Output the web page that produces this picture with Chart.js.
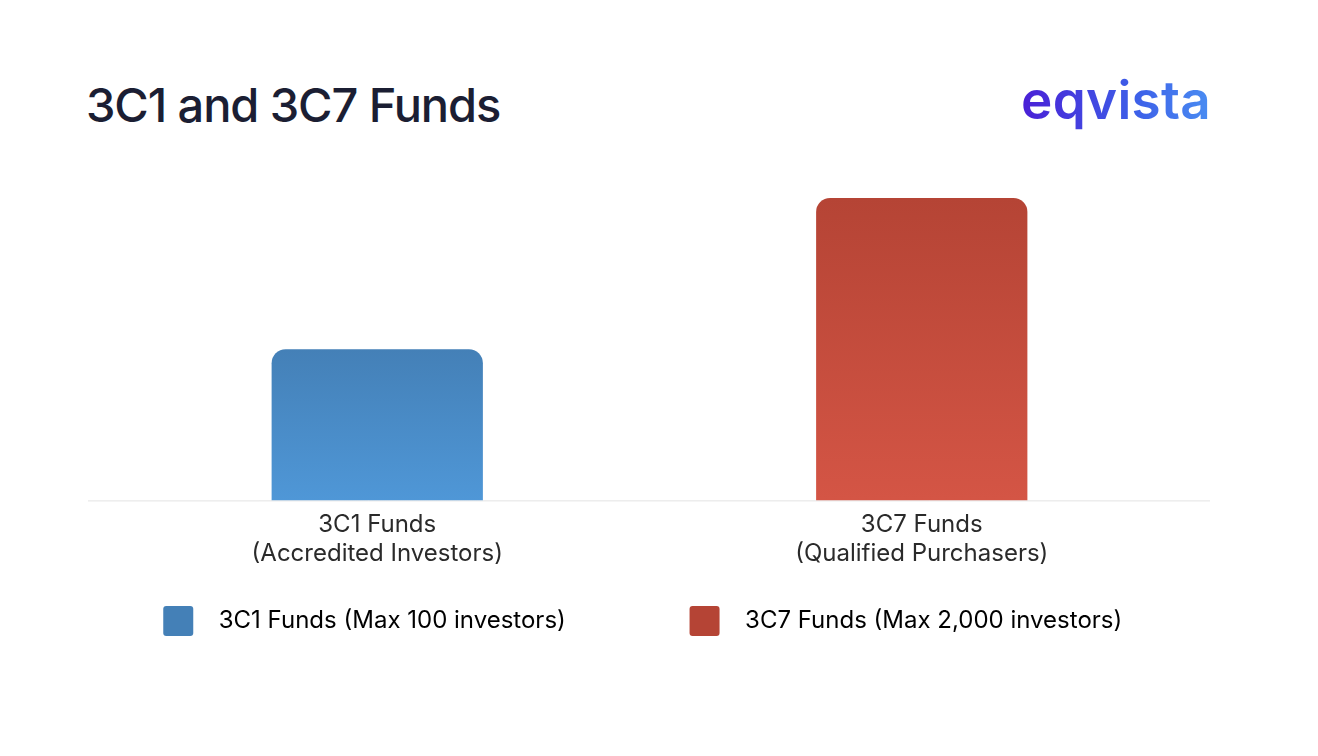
<!DOCTYPE html>
<html>
<head>
<meta charset="utf-8">
<script src="https://cdn.jsdelivr.net/npm/chart.js@4"></script>
<style>
  body { margin: 0; background: #fff; }
  #wrap { position: relative; width: 1318px; height: 756px; }
  #title { position: absolute; left: 86px; top: 76px; font: 500 47px Inter, sans-serif; color: #1b1e33; letter-spacing: -1.1px; }
  #logo { position: absolute; left: 1021px; top: 68px; font: 600 53px Inter, sans-serif; letter-spacing: 0.3px;
    background: linear-gradient(90deg, #4a1fd6, #3d5fe8 60%, #4a8df2); -webkit-background-clip: text; color: transparent; }
  canvas { position: absolute; left: 0; top: 0; }
</style>
</head>
<body>
<div id="wrap">
  <div id="title">3C1 and 3C7 Funds</div>
  <div id="logo">eqvista</div>
  <canvas id="chart" width="1318" height="756"></canvas>
</div>
<script>
// data
const categories = [['3C1 Funds', '(Accredited Investors)'], ['3C7 Funds', '(Qualified Purchasers)']];
const values = [1, 2];
const legendLabels = ['3C1 Funds (Max 100 investors)', '3C7 Funds (Max 2,000 investors)'];
const topColors = ['#4480b7', '#b54435'];
const bottomColors = ['#4f97d7', '#d45545'];

function barFill(ctx) {
  const chart = ctx.chart;
  const area = chart.chartArea;
  if (!area) return topColors[ctx.dataIndex];
  const y = chart.scales.y;
  const top = y.getPixelForValue(values[ctx.dataIndex]);
  const g = chart.ctx.createLinearGradient(0, top, 0, area.bottom);
  g.addColorStop(0, topColors[ctx.dataIndex]);
  g.addColorStop(1, bottomColors[ctx.dataIndex]);
  return g;
}

// baseline wider than the category area
const baseline = {
  id: 'baseline',
  beforeDatasetsDraw(chart) {
    const c = chart.ctx, b = chart.chartArea.bottom;
    c.save();
    c.strokeStyle = '#e3e3e3';
    c.lineWidth = 1;
    c.beginPath();
    c.moveTo(88, b + 0.5);
    c.lineTo(1210, b + 0.5);
    c.stroke();
    c.restore();
  }
};

new Chart(document.getElementById('chart'), {
  type: 'bar',
  data: {
    labels: categories,
    datasets: [{
      data: values,
      backgroundColor: barFill,
      borderRadius: { topLeft: 14, topRight: 14 },
      borderSkipped: 'bottom',
      barPercentage: 0.388,
      categoryPercentage: 1
    }]
  },
  options: {
    responsive: false,
    animation: false,
    layout: { padding: { left: 105, right: 124, top: 198, bottom: 110 } },
    scales: {
      y: { display: false, min: 0, max: 2 },
      x: {
        grid: { display: false },
        border: { display: false },
        ticks: { color: '#2a2a2a', font: { family: 'Inter', size: 24, lineHeight: 1.2 }, padding: 2 }
      }
    },
    plugins: {
      tooltip: { enabled: false },
      legend: {
        position: 'bottom',
        labels: {
          color: '#2a2a2a',
          font: { family: 'Inter', size: 24 },
          boxWidth: 30, boxHeight: 30,
          padding: 36,
          useBorderRadius: true, borderRadius: 3,
          generateLabels: () => legendLabels.map((t, i) => ({
            text: '  ' + t + (i === 0 ? '             ' : '  '),
            fillStyle: topColors[i], strokeStyle: topColors[i], lineWidth: 0, borderRadius: 3
          }))
        }
      }
    }
  },
  plugins: [baseline]
});
</script>
</body>
</html>
